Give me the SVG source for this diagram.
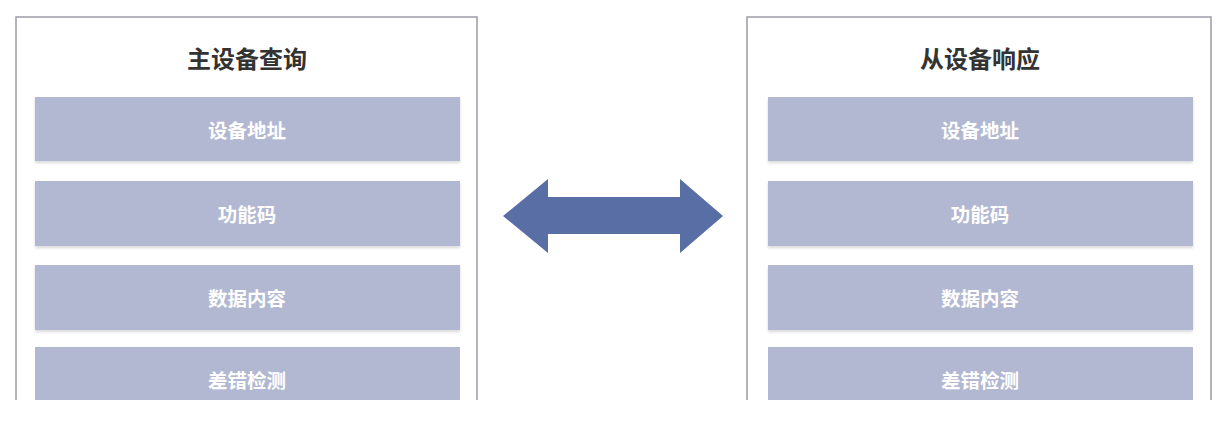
<svg xmlns="http://www.w3.org/2000/svg" width="1228" height="426" viewBox="0 0 1228 426">
<defs>
<style>
.panel{fill:#ffffff;stroke:#9a9ca6;stroke-width:1.5}
.box{fill:#b2b8d2}
.title{font-family:"Noto Sans CJK SC","Noto Sans",sans-serif;font-size:24px;font-weight:bold;fill:#333333;text-anchor:middle;dominant-baseline:central}
.lbl{font-family:"Noto Sans CJK SC","Noto Sans",sans-serif;font-size:19.5px;font-weight:bold;fill:#ffffff;text-anchor:middle;dominant-baseline:central}
</style>
<filter id="sh" x="-5%" y="-10%" width="110%" height="130%">
<feDropShadow dx="0" dy="2" stdDeviation="1.5" flood-color="#000" flood-opacity="0.15"/>
</filter>
</defs>
<rect width="1228" height="426" fill="#ffffff"/>
<g id="master">
<path class="panel" d="M16,400 V17 H477 V400"/>
<text class="title" x="247" y="57">主设备查询</text>
<g id="m1"><rect class="box" x="35" y="97" width="425" height="64" filter="url(#sh)"/><text class="lbl" x="247" y="129">设备地址</text></g>
<g id="m2"><rect class="box" x="35" y="181" width="425" height="65" filter="url(#sh)"/><text class="lbl" x="247" y="213">功能码</text></g>
<g id="m3"><rect class="box" x="35" y="265" width="425" height="65" filter="url(#sh)"/><text class="lbl" x="247" y="297">数据内容</text></g>
<g id="m4"><rect class="box" x="35" y="347" width="425" height="53"/><text class="lbl" x="247" y="379">差错检测</text></g>
</g>
<g id="slave">
<path class="panel" d="M747,400 V17 H1211 V400"/>
<text class="title" x="980" y="57">从设备响应</text>
<g id="s1"><rect class="box" x="768" y="97" width="425" height="64" filter="url(#sh)"/><text class="lbl" x="980" y="129">设备地址</text></g>
<g id="s2"><rect class="box" x="768" y="181" width="425" height="65" filter="url(#sh)"/><text class="lbl" x="980" y="213">功能码</text></g>
<g id="s3"><rect class="box" x="768" y="265" width="425" height="65" filter="url(#sh)"/><text class="lbl" x="980" y="297">数据内容</text></g>
<g id="s4"><rect class="box" x="768" y="347" width="425" height="53"/><text class="lbl" x="980" y="379">差错检测</text></g>
</g>
<g id="connectors">
<polygon fill="#5a6ea6" points="503,216 548,179 548,197 680,197 680,179 723,216 680,253 680,234 548,234 548,253"/>
</g>
<rect x="0" y="400" width="1228" height="26" fill="#ffffff"/>
</svg>
